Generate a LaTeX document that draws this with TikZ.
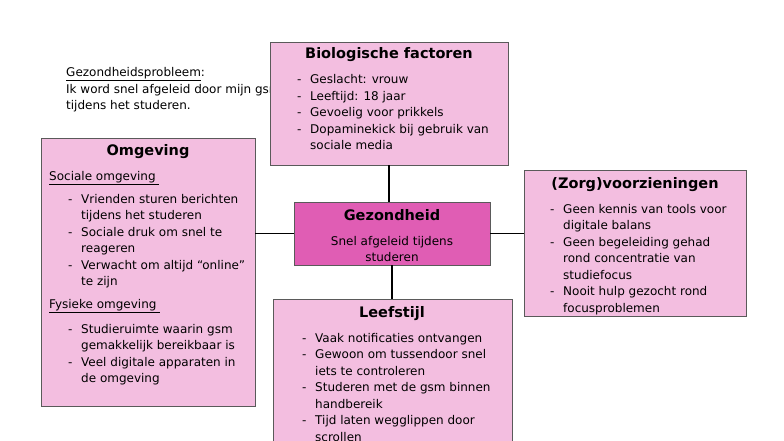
\documentclass[tikz,border=0pt]{standalone}
\usepackage{fontspec}
\setmainfont{DejaVu Sans}
\definecolor{lpink}{HTML}{F3BEE0}
\definecolor{dpink}{HTML}{E05DB4}
\definecolor{bord}{HTML}{5A5A5A}
\newcommand\dsh{\makebox[13pt][l]{-}}
\newcommand\hng{\hspace*{13pt}}
\begin{document}
\begin{tikzpicture}[x=1pt,y=-1pt,
  box/.style={draw=bord, line width=0.9pt, fill=lpink, inner sep=0pt},
  ttl/.style={anchor=base, inner sep=0pt, font=\fontsize{14.5}{17}\selectfont\bfseries},
  txt/.style={anchor=base west, inner sep=0pt, font=\fontsize{12}{16.5}\selectfont},
  conn/.style={draw=black, line width=1.5pt}]
\useasboundingbox (0,0) rectangle (784,441);
\fill[white] (0,0) rectangle (784,441);

% header text (partly covered by the box)
\node[txt] (hdr) at (66,76.7) {\begin{tabular}[t]{@{}l@{}}\underline{Gezondheidsprobleem}:\\Ik word snel afgeleid door mijn gsm\\tijdens het studeren.\end{tabular}};

% boxes
\node[box, minimum width=238pt, minimum height=123pt] (bio) at (389,103.5) {};
\node[box, minimum width=214pt, minimum height=268pt] (omg) at (148,272) {};
\node[box, fill=dpink, minimum width=196pt, minimum height=63pt] (gez) at (392,233.5) {};
\node[box, minimum width=222pt, minimum height=146pt] (zorg) at (635,243) {};
\node[box, minimum width=239pt, minimum height=170pt] (leef) at (392.5,384) {};

% connectors
\draw[conn] (bio.south) -- (bio.south |- gez.north);
\draw[conn] (gez.west) -- (gez.west -| omg.east);
\draw[conn] (gez.east) -- (gez.east -| zorg.west);
\draw[conn] (gez.south) -- (gez.south |- leef.north);

% Biologische factoren
\node[ttl] (biot) at (389,59) {Biologische factoren};
\node[txt] (bioi) at (297,84) {\begin{tabular}[t]{@{}l@{}}\dsh Geslacht: vrouw\\\dsh Leeftijd: 18 jaar\\\dsh Gevoelig voor prikkels\\\dsh Dopaminekick bij gebruik van\\\hng sociale media\end{tabular}};

% Omgeving
\node[ttl] (omgt) at (148,155) {Omgeving};
\node[txt] (omgs) at (49,180) {\underline{Sociale omgeving\ }};
\node[txt] (omgi) at (68,203) {\begin{tabular}[t]{@{}l@{}}\dsh Vrienden sturen berichten\\\hng tijdens het studeren\\\dsh Sociale druk om snel te\\\hng reageren\\\dsh Verwacht om altijd “online”\\\hng te zijn\end{tabular}};
\node[txt] (omgf) at (49,308) {\underline{Fysieke omgeving\ }};
\node[txt] (omgj) at (68,333) {\begin{tabular}[t]{@{}l@{}}\dsh Studieruimte waarin gsm\\\hng gemakkelijk bereikbaar is\\\dsh Veel digitale apparaten in\\\hng de omgeving\end{tabular}};

% Gezondheid
\node[ttl] (gezt) at (392,220) {Gezondheid};
\node[txt, anchor=base] (gezi) at (392,245) {\begin{tabular}[t]{@{}c@{}}Snel afgeleid tijdens\\studeren\end{tabular}};

% (Zorg)voorzieningen
\node[ttl] (zorgt) at (635,188) {(Zorg)voorzieningen};
\node[txt] (zorgi) at (550,213) {\begin{tabular}[t]{@{}l@{}}\dsh Geen kennis van tools voor\\\hng digitale balans\\\dsh Geen begeleiding gehad\\\hng rond concentratie van\\\hng studiefocus\\\dsh Nooit hulp gezocht rond\\\hng focusproblemen\end{tabular}};

% Leefstijl
\node[ttl] (leeft) at (392,317) {Leefstijl};
\node[txt] (leefi) at (302,342) {\begin{tabular}[t]{@{}l@{}}\dsh Vaak notificaties ontvangen\\\dsh Gewoon om tussendoor snel\\\hng iets te controleren\\\dsh Studeren met de gsm binnen\\\hng handbereik\\\dsh Tijd laten wegglippen door\\\hng scrollen\end{tabular}};
\end{tikzpicture}
\end{document}
